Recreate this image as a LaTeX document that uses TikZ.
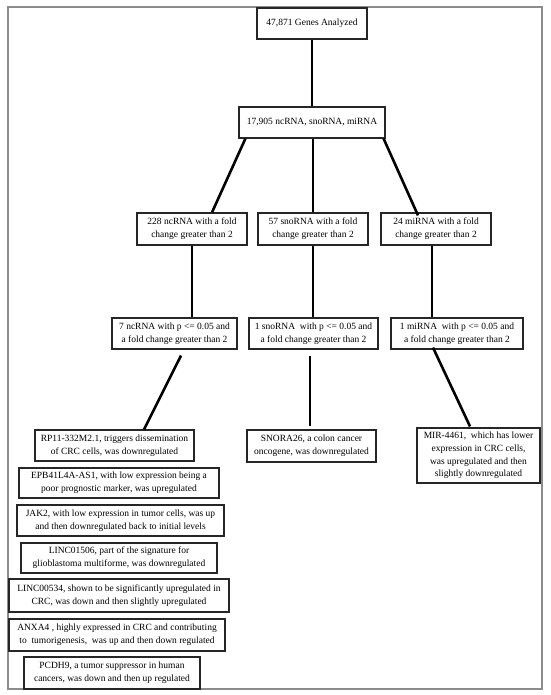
\documentclass[tikz,border=0pt]{standalone}
\usepackage{fontspec}
\setmainfont{Liberation Serif}
\usetikzlibrary{calc}
\tikzset{
  box/.style={draw=black!85, line width=1.2pt, align=center, inner sep=1pt,
    font=\fontsize{9.5}{12.8}\selectfont, minimum width=#1},
  conn/.style={line width=2.6pt, black},
  frame/.style={draw=black!45, line width=1.3pt}
}
\begin{document}
\begin{tikzpicture}[x=1pt,y=-1pt]
\useasboundingbox (0,0) rectangle (550,695);
\draw[frame] (8,7) rectangle (542,689);
% row 1-2
\node[box=110pt, minimum height=31pt] (b1) at (312,23.5) {47,871 Genes Analyzed};
\node[box=146pt, minimum height=31pt] (b2) at (312,122.5) {17,905 ncRNA, snoRNA, miRNA};
% row 3
\node[box=110pt, minimum height=32pt] (b3) at (192,229) {228 ncRNA with a fold\\change greater than 2};
\node[box=110pt, minimum height=32pt] (b4) at (313,229) {57 snoRNA with a fold\\change greater than 2};
\node[box=110pt, minimum height=32pt] (b5) at (436,229) {24 miRNA with a fold\\change greater than 2};
% row 4
\node[box=125pt, minimum height=31pt] (b6) at (174.5,333.5) {7 ncRNA with p <= 0.05 and\\a fold change greater than 2};
\node[box=129pt, minimum height=31pt] (b7) at (313.5,333.5) {1 snoRNA\ \ with p <= 0.05 and\\a fold change greater than 2};
\node[box=132pt, minimum height=31pt] (b8) at (457,333.5) {1 miRNA\ \ with p <= 0.05 and\\a fold change greater than 2};
% row 5
\node[box=159pt, minimum height=31pt] (r1) at (114.5,445.5) {RP11-332M2.1, triggers dissemination\\of CRC cells, was downregulated};
\node[box=129pt, minimum height=32pt] (sn) at (311.5,446) {SNORA26, a colon cancer\\oncogene, was downregulated};
\node[box=123pt, minimum height=55pt] (mir) at (478.5,455.5) {MIR-4461,\ \ which has lower\\expression in CRC cells,\\was upregulated and then\\slightly downregulated};
% list
\node[box=200pt, minimum height=30pt] (e1) at (119,483) {EPB41L4A-AS1, with low expression being a\\poor prognostic marker, was upregulated};
\node[box=207pt, minimum height=31pt] (e2) at (120.5,520.5) {JAK2, with low expression in tumor cells, was up\\and then downregulated back to initial levels};
\node[box=196pt, minimum height=30pt] (e3) at (119,558) {LINC01506, part of the signature for\\glioblastoma multiforme, was downregulated};
\node[box=220pt, minimum height=33pt] (e4) at (119,595.5) {LINC00534, shown to be significantly upregulated in\\CRC, was down and then slightly upregulated};
\node[box=216pt, minimum height=32pt] (e5) at (117,635) {ANXA4 , highly expressed in CRC and contributing\\to\ \ tumorigenesis,\ \ was up and then down regulated};
\node[box=176pt, minimum height=32pt] (e6) at (112,673) {PCDH9, a tumor suppressor in human\\cancers, was down and then up regulated};
% connectors
\draw[conn] (b1.south) -- (b2.north);
\draw[conn] ($(b2.south west)+(7,0)$) -- ($(b3.north)+(20,0)$);
\draw[conn] (b4.north |- b2.south) -- (b4.north);
\draw[conn] ($(b2.south east)+(-2,0)$) -- ($(b5.north)+(-18,3)$);
\draw[conn] (b3.south) -- (b3.south |- b6.north);
\draw[conn] (b4.south) -- (b4.south |- b7.north);
\draw[conn] ($(b5.south)+(-4,0)$) coordinate (m5) -- (m5 |- b8.north);
\draw[conn] ($(b6.south)+(6.5,6)$) -- ($(r1.north)+(29.5,0)$);
\draw[conn] ($(b7.south)+(-3.5,6)$) -- ($(sn.north)+(-1.5,-3)$);
\draw[conn] ($(b8.south)+(-24,-2)$) -- ($(mir.north)+(-8.5,-1)$);
\end{tikzpicture}
\end{document}
